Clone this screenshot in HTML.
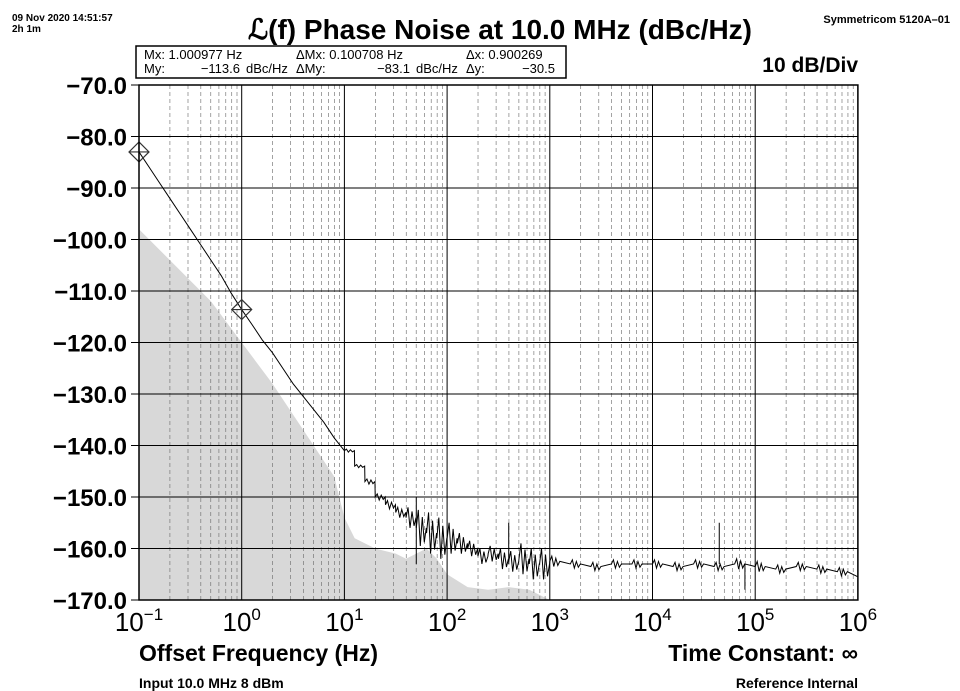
<!DOCTYPE html>
<html><head><meta charset="utf-8"><style>
body{margin:0;background:#fff;width:960px;height:691px;overflow:hidden;font-family:"Liberation Sans",sans-serif}
svg{display:block}
</style></head><body>
<svg id="chart" width="960" height="691">
<text x="12" y="21" font-size="10" font-weight="bold">09 Nov 2020 14:51:57</text>
<text x="12" y="32" font-size="10" font-weight="bold">2h 1m</text>
<text x="500" y="39" font-size="28" text-anchor="middle" font-weight="bold">ℒ(f) Phase Noise at 10.0 MHz (dBc/Hz)</text>
<text x="950" y="23" font-size="11" text-anchor="end" font-weight="bold">Symmetricom 5120A–01</text>
<rect x="136" y="46" width="430" height="32" fill="#fff" stroke="#000" stroke-width="1.5"/>
<g font-size="13">
<text x="144" y="59">Mx:  1.000977  Hz</text>
<text x="144" y="73">My:</text><text x="240" y="73" text-anchor="end">−113.6</text><text x="246" y="73">dBc/Hz</text>
<text x="296" y="59">ΔMx:  0.100708  Hz</text>
<text x="296" y="73">ΔMy:</text><text x="410" y="73" text-anchor="end">−83.1</text><text x="416" y="73">dBc/Hz</text>
<text x="466" y="59">Δx:  0.900269</text>
<text x="466" y="73">Δy:</text><text x="555" y="73" text-anchor="end">−30.5</text>
</g>
<text x="858" y="72" font-size="21" text-anchor="end" font-weight="bold">10 dB/Div</text>
<g id="plot"></g>
<text x="139" y="661" font-size="23" font-weight="bold">Offset Frequency (Hz)</text>
<text x="858" y="661" font-size="23" text-anchor="end" font-weight="bold">Time Constant: ∞</text>
<text x="139" y="688" font-size="14" font-weight="bold">Input 10.0 MHz 8 dBm</text>
<text x="858" y="688" font-size="14" text-anchor="end" font-weight="bold">Reference Internal</text>
</svg>
<script>
const yTicks=[-70,-80,-90,-100,-110,-120,-130,-140,-150,-160,-170];
const yTickLabels=["−70.0","−80.0","−90.0","−100.0","−110.0","−120.0","−130.0","−140.0","−150.0","−160.0","−170.0"];
const xDecades=[-1,0,1,2,3,4,5,6];
const xDecadeLabels=["−1","0","1","2","3","4","5","6"];
const traceLogF=[-1,-0.9,-0.8,-0.7,-0.6,-0.5,-0.4,-0.3,-0.2,-0.1,0,0.1,0.2,0.3,0.4,0.5,0.6,0.7,0.8,0.9,1,1.1,1.2,1.3,1.4,1.5,1.6,1.7,1.8,1.9,2,2.1,2.2,2.3,2.4,2.5,2.6,2.7,2.8,2.9,3,3.2,3.4,3.6,3.8,4,4.2,4.4,4.6,4.8,5,5.2,5.4,5.6,5.8,6];
const traceDb=[-83,-86,-89,-92,-95,-98,-101,-104,-107,-110.5,-113.6,-116.5,-119.5,-122,-125,-128,-130.5,-133,-135.5,-138.5,-141,-144,-147,-150,-151.5,-153,-154,-156,-157,-158,-158,-159,-160,-161.5,-161,-162,-162.5,-162,-163,-163,-162.5,-163,-163.5,-163,-163,-163,-163.5,-163,-163.5,-163,-163.5,-164,-163.5,-164,-164.5,-165.5];
const noiseSpan=[0,0,0,0,0,0,0,0,0,0,0,0,0,0,0,0,0,0,0,0,0.3,0.3,0.5,0.6,0.8,1,2,3.5,4,4,3,2,1.5,1.5,1.5,2,2,3,3,3,1,0.8,0.8,0.8,0.8,0.8,0.8,0.8,0.8,1,1,0.8,0.8,0.8,0.8,0];
const spikeLogF=[1.7,2.6,4.65,4.9];
const spikeDb=[-150,-155,-155,-168];
const floorLogF=[-1,-0.6,-0.3,0,0.3,0.5,0.6,0.7,0.8,0.9,1,1.1,1.3,1.5,1.6,1.7,1.8,1.9,2,2.2,2.4,2.6,2.8,3];
const floorDb=[-98,-106,-112,-120,-128,-134,-137,-140,-143,-146,-154,-158,-160,-161,-162,-161,-160,-162,-165,-167.5,-168,-167.5,-168,-170];
const markerLogF=[-1,0];
const markerDb=[-83,-113.6];

const X0=139,DEC=102.7,Y0=85,DBPX=5.15;
const xs=l=>X0+(l+1)*DEC;
const ys=d=>Y0+(-70-d)*DBPX;
const NS="http://www.w3.org/2000/svg";
const g=document.getElementById('plot');
function mk(t,a){const e=document.createElementNS(NS,t);for(const k in a)e.setAttribute(k,a[k]);g.appendChild(e);return e;}
const L=xs(-1),R=xs(6),T=ys(-70),B=ys(-170);
let fp=`M${xs(floorLogF[0])},${B}`;
floorLogF.forEach((l,i)=>fp+=` L${xs(l)},${ys(floorDb[i])}`);
fp+=` L${xs(floorLogF[floorLogF.length-1])},${B}Z`;
let e=mk('path',{d:fp,fill:'#d8d8d8'});


for(let d=-1;d<6;d++)for(let m=2;m<10;m++){
 const x=xs(d+Math.log10(m));
 e=mk('line',{x1:x,x2:x,y1:T,y2:B,stroke:'#666','stroke-width':0.6,'stroke-dasharray':'4,3'});
 
 
}
xDecades.forEach((d,i)=>{
 const x=xs(d);
 e=mk('line',{x1:x,x2:x,y1:T,y2:B,stroke:'#000','stroke-width':1});
 
 
 e=mk('text',{x:x,y:B+31,'font-size':26,'text-anchor':'middle'});
 e.innerHTML=`10<tspan font-size="17" dy="-11">${xDecadeLabels[i]}</tspan>`;
 
 
});
yTicks.forEach((v,i)=>{
 const y=ys(v);
 e=mk('line',{x1:L-8,x2:R,y1:y,y2:y,stroke:'#000','stroke-width':1});
 
 
 e=mk('text',{x:L-12,y:y+9,'font-size':24,'font-weight':'bold','text-anchor':'end'});
 e.textContent=yTickLabels[i];
 
 
});
let tp='';
traceLogF.forEach((l,i)=>{
 const x=xs(l),y=ys(traceDb[i]),s=noiseSpan[i]*DBPX;
 tp+=(i?' L':'M')+x+','+y;
 if(s>0){tp+=` L${x+2},${y-s} L${x+4},${y+s} L${x+6},${y-s*0.6} L${x+8},${y+s*0.8} L${x+10},${y}`;}
});
e=mk('path',{d:tp,fill:'none',stroke:'#000','stroke-width':1});


spikeLogF.forEach((l,i)=>{
 const x=xs(l);
 e=mk('line',{x1:x,x2:x,y1:ys(spikeDb[i]),y2:ys(-163),stroke:'#000','stroke-width':1});
 
 
});
markerLogF.forEach((l,i)=>{
 const x=xs(l),y=ys(markerDb[i]);
 e=mk('path',{d:`M${x},${y-10} L${x+10},${y} L${x},${y+10} L${x-10},${y}Z M${x-10},${y} L${x+10},${y} M${x},${y-10} L${x},${y+10}`,fill:'none',stroke:'#333','stroke-width':1.2});
 
 
});
e=mk('rect',{x:L,y:T,width:R-L,height:B-T,fill:'none',stroke:'#000','stroke-width':1.5});


</script>
</body></html>
